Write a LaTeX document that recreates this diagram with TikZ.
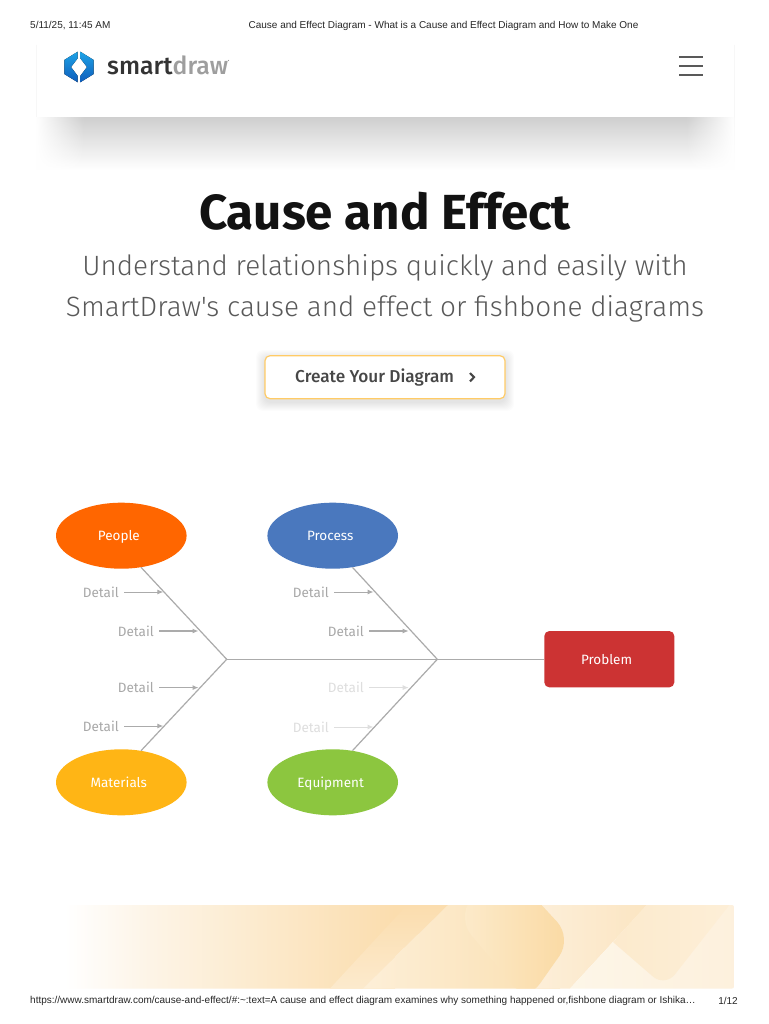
\documentclass[tikz,border=0pt]{standalone}
\usepackage{fontspec}
\setmainfont{Fira Sans}
\newfontfamily\hdrfont{Liberation Sans}
\newfontfamily\lightfont{Fira Sans Light}
\newfontfamily\medfont{Fira Sans Medium}
\usetikzlibrary{shapes.geometric,arrows.meta,fadings}
\definecolor{bone}{HTML}{ABABAB}
\definecolor{detailc}{HTML}{A8A8A8}
\definecolor{fadedc}{HTML}{DEDEDE}
\definecolor{peoplec}{HTML}{FF6600}
\definecolor{processc}{HTML}{4A78BE}
\definecolor{materialc}{HTML}{FFB515}
\definecolor{equipc}{HTML}{8CC63F}
\definecolor{problemc}{HTML}{CC3333}
\definecolor{btnc}{HTML}{FFCB66}
\definecolor{bluehi}{HTML}{1EA3E6}
\definecolor{bluelo}{HTML}{0E5CBB}
\definecolor{bA}{HTML}{FDF4E6}
\definecolor{bB}{HTML}{FCEBCF}
\definecolor{bC}{HTML}{FBDDAE}
\definecolor{bD}{HTML}{FCEACD}
\definecolor{bE}{HTML}{FDEFD8}
\definecolor{bF}{HTML}{FADFB0}
\definecolor{bG}{HTML}{FBE5C2}
\definecolor{bH}{HTML}{FCEBCC}
\definecolor{bI}{HTML}{FAD9A2}
\definecolor{bJ}{HTML}{FDF6E8}
\definecolor{bK}{HTML}{FDF0DC}
\pgfdeclarehorizontalshading{bandbase}{100bp}{
  color(0bp)=(white); color(29bp)=(white);
  color(41bp)=(bA);
  color(55bp)=(bB);
  color(75bp)=(bC); color(100bp)=(bC)}
\tikzset{
  fish/.style={ellipse,minimum width=130.6pt,minimum height=66pt,inner sep=0pt,text=white,text height=11pt,text depth=1.3pt,font=\fontsize{13.5}{16}\selectfont},
  fishlow/.style={fish,text height=12.5pt},
  detail/.style={inner sep=0pt,text=detailc,font=\fontsize{13.5}{16}\selectfont},
  faded/.style={detail,text=fadedc},
  bonel/.style={draw=bone,line width=1.2pt},
  arr/.style={draw=#1,line width=1pt,-{Latex[length=6pt,width=5pt]}},
  arr/.default=bone,
  hdr/.style={inner sep=0pt,font=\hdrfont\fontsize{10}{12}\selectfont,text=black!85}
}
\begin{document}
\begin{tikzpicture}[x=1pt,y=-1pt]
\useasboundingbox (0,0) rectangle (768,1024);
\fill[white] (0,0) rectangle (768,1024);
% page header
\node[hdr,anchor=west] (date) at (30,25.5) {5/11/25, 11:45 AM};
\node[hdr] (ptitle) at (443.5,25.5) {Cause and Effect Diagram - What is a Cause and Effect Diagram and How to Make One};
% site header
\shade[top color=black!20,bottom color=white] (36,114) rectangle (734,170);
\fill[white,path fading=east] (36,114) rectangle (84,170);
\fill[white,path fading=west] (686,114) rectangle (734,170);
\fill[white] (30,40) rectangle (740,117);
\draw[black!3] (36,45) -- (36,117);
\draw[black!3] (734,45) -- (734,117);
% logo
\fill[top color=bluehi,bottom color=bluelo] (77.7,51.7) -- (64.3,60) -- (64.3,74) -- (77.7,82.3) -- (77.7,76) -- (71,67) -- (77.7,58.3) -- cycle;
\fill[top color=bluehi,bottom color=bluelo] (80.3,51.7) -- (93.7,60) -- (93.7,74) -- (80.3,82.3) -- (80.3,76) -- (87,67) -- (80.3,58.3) -- cycle;
\node[inner sep=0pt,anchor=base west,font=\medfont\fontsize{24.8}{28}\selectfont] (logotext) at (107,75) {\textcolor{black!80}{smart}\textcolor{black!38}{draw}};
\fill[black!40] (228.5,60.5) circle (0.6);
% hamburger
\draw[black!65,line width=2pt] (679,57.5) -- (703,57.5) (679,66.5) -- (703,66.5) (679,75.5) -- (703,75.5);
% hero
\node[inner sep=0pt,text=black!93,font=\bfseries\fontsize{49.3}{52}\selectfont] (title) at (385,211.5) {Cause and Effect};
\node[inner sep=0pt,text=black!65,font=\lightfont\fontsize{27.9}{32}\selectfont] (sub1) at (385,268) {Understand relationships quickly and easily with};
\node[inner sep=0pt,text=black!65,font=\lightfont\fontsize{27.9}{32}\selectfont] (sub2) at (385,309) {SmartDraw's cause and effect or fishbone diagrams};
% button shadow and button
\foreach \g in {1,...,9}{
  \fill[black,opacity=0.011,rounded corners=7pt] (265-\g,356+3-\g) rectangle (505+\g,399+3+\g);
}
\node[draw=btnc,fill=white,line width=1.2pt,rounded corners=5pt,minimum width=240pt,minimum height=43pt,inner sep=0pt] (button) at (385,377.2) {};
\node[inner sep=0pt,anchor=west,text=black!72,font=\medfont\fontsize{17.2}{20}\selectfont] (btntext) at (295,378) {Create Your Diagram};
\draw[black!72,line width=2.1pt] (470,373) -- (474,377.2) -- (470,381.4);
% fishbone
\node[fish,fill=peoplec] (people) at (121.3,535.7) {\kern-5pt People};
\node[fish,fill=processc] (process) at (332.7,535.7) {\kern-5pt Process};
\node[fishlow,fill=materialc] (materials) at (121.3,782.3) {\kern-5pt Materials};
\node[fishlow,fill=equipc] (equipment) at (332.7,782.3) {\kern-4pt Equipment};
\node[fill=problemc,text=white,rounded corners=5pt,minimum width=130pt,minimum height=56.3pt,inner sep=0pt,font=\fontsize{13.5}{16}\selectfont] (problem) at (609.3,659.2) {\kern-5.5pt Problem};
\coordinate (j1) at (226.7,659.3);
\coordinate (j2) at (437.3,659.3);
\draw[bonel] (people.-58) -- (j1);
\draw[bonel] (materials.58) -- (j1);
\draw[bonel] (process.-58) -- (j2);
\draw[bonel] (equipment.58) -- (j2);
\draw[bonel] (j1) -- (j2) -- (problem.west |- j2);
\node[detail] (d1) at (100.8,592) {Detail};
\node[detail] (d2) at (135.8,631) {Detail};
\node[detail] (d3) at (135.8,687.6) {Detail};
\node[detail] (d4) at (100.8,726) {Detail};
\node[detail] (d5) at (310.8,592) {Detail};
\node[detail] (d6) at (345.8,631) {Detail};
\node[faded] (d7) at (345.8,687.6) {Detail};
\node[faded] (d8) at (310.8,727) {Detail};
\coordinate (t1) at (163.3,592);
\coordinate (t2) at (198.5,631);
\coordinate (t3) at (198.5,687.6);
\coordinate (t4) at (163.3,726);
\coordinate (t5) at (373.5,592);
\coordinate (t6) at (408.7,631);
\coordinate (t7) at (408.7,687.6);
\coordinate (t8) at (373.5,727);
\draw[arr] ([xshift=5.5pt]d1.east) -- (t1);
\draw[arr,line width=1.7pt] ([xshift=5.5pt]d2.east) -- (t2);
\draw[arr] ([xshift=5.5pt]d3.east) -- (t3);
\draw[arr] ([xshift=5.5pt]d4.east) -- (t4);
\draw[arr] ([xshift=5.5pt]d5.east) -- (t5);
\draw[arr,line width=1.7pt] ([xshift=5.5pt]d6.east) -- (t6);
\draw[arr=fadedc] ([xshift=5.5pt]d7.east) -- (t7);
\draw[arr=fadedc] ([xshift=5.5pt]d8.east) -- (t8);
% decorative band
\begin{scope}
\path[clip,rounded corners=2pt] (36,905) rectangle (734,988.5);
\shade[shading=bandbase] (36,905) rectangle (395,988.5);
\fill[bC] (394.5,905) rectangle (450,935);
\fill[white,path fading=east] (36,905) rectangle (90,988.5);
\shade[top color=bC,bottom color=bD] (407,905) -- (448,905) -- (363,988.5) -- (330,988.5) -- cycle;
\shade[left color=bE,right color=bF] (448,905) -- (560,905) -- (560,988.5) -- (363,988.5) -- cycle;
\shade[left color=bK,right color=bG] (520,905) -- (647,905) -- (570,988.5) -- (520,988.5) -- cycle;
\shade[left color=bH,right color=bI,rounded corners=22pt] (500,860) -- (572,938) -- (527,1002) -- (457,918) -- cycle;
\shade[left color=bJ,right color=bK] (570,988.5) -- (613,942) -- (745,885) -- (745,988.5) -- cycle;
\shade[left color=bD,right color=bE] (660,890) -- (613,942) [rounded corners=16pt] -- (665,987) [sharp corners] -- (745,885) -- cycle;
\end{scope}
% page footer
\node[hdr,anchor=west] (url) at (30,1000.5) {https://www.smartdraw.com/cause-and-effect/\#:\textasciitilde:text=A cause and effect diagram examines why something happened or,fishbone diagram or Ishika\dots};
\node[hdr,anchor=east] (pageno) at (738,1000.5) {1/12};
\end{tikzpicture}
\end{document}
